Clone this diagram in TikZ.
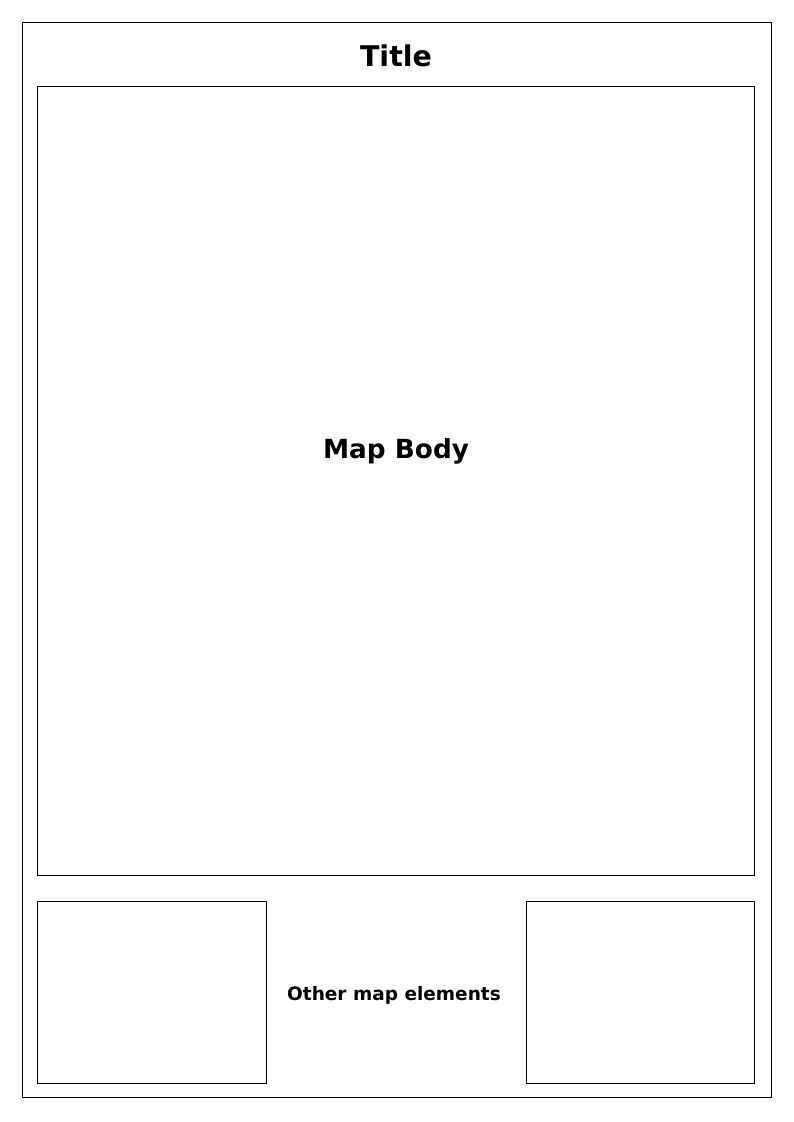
\documentclass[tikz,border=0pt]{standalone}
\usepackage{fontspec}
\setmainfont{DejaVu Sans}
\begin{document}
\begin{tikzpicture}[x=1pt,y=-1pt,
  frame/.style={draw=black,line width=1pt},
  lbl/.style={font=\bfseries,inner sep=0pt}]
\useasboundingbox (0,0) rectangle (793,1122);
\node[frame,inner sep=0pt,minimum width=749pt,minimum height=1075pt,anchor=north west] (outer) at (21.5,21.5) {};
\node[frame,inner sep=0pt,minimum width=717pt,minimum height=789pt,anchor=north west] (body) at (36.5,85.5) {};
\node[frame,inner sep=0pt,minimum width=229pt,minimum height=182pt,anchor=north west] (left) at (36.5,900.5) {};
\node[frame,inner sep=0pt,minimum width=228pt,minimum height=182pt,anchor=north west] (right) at (525.5,900.5) {};
\node[lbl,font=\fontsize{28.5}{32}\selectfont\bfseries] (title) at (396,56) {Title};
\node[lbl,font=\fontsize{26.3}{30}\selectfont\bfseries] (mapbody) at (396,451) {Map Body};
\node[lbl,font=\fontsize{18.5}{22}\selectfont\bfseries] (other) at (394,995) {Other map elements};
\end{tikzpicture}
\end{document}
